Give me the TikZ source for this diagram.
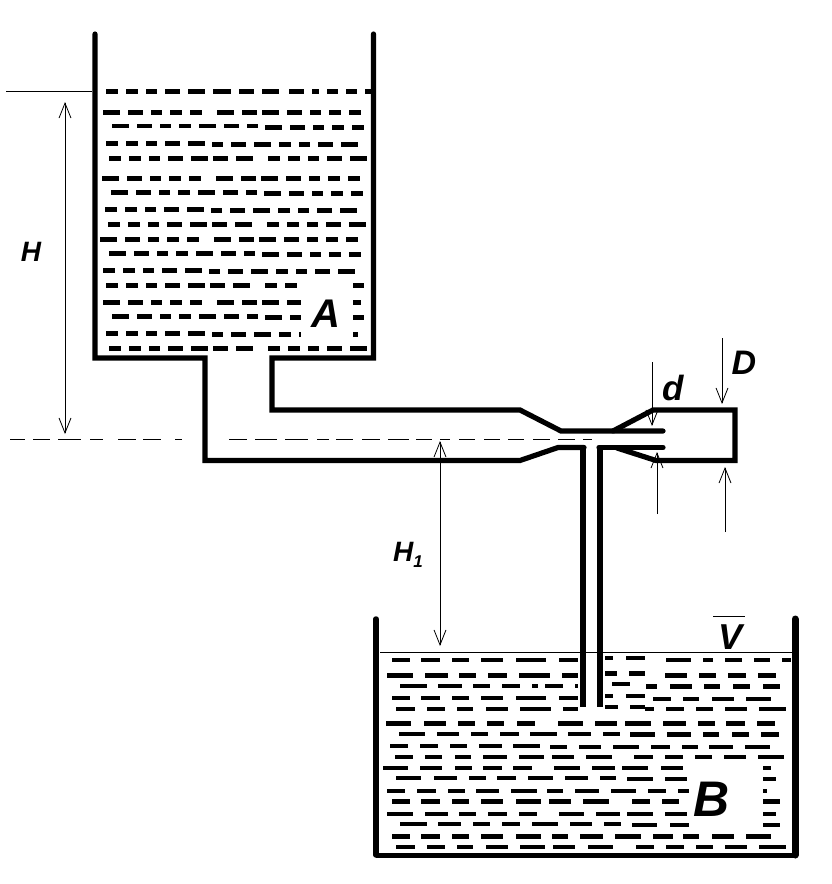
\documentclass[tikz,border=0pt]{standalone}
\usepackage{fontspec}
\setmainfont{Liberation Sans}
\usetikzlibrary{arrows.meta}
\newcommand\dashrow[2]{\foreach \a/\b in {#2}{\draw[liq] ({\a/3+\ox},#1)--({\b/3+\ox},#1);}}
\tikzset{
  liq/.style={line width=4.6pt},
  wall/.style={line width=5.2pt,line join=miter},
  thin line/.style={line width=0.9pt},
  open tip/.tip={Straight Barb[length=15pt,width=12pt,line width=0.8pt]},
  dim/.style={line width=0.8pt,-open tip},
  dimb/.style={line width=0.8pt,open tip-open tip},
  lab/.style={inner sep=0pt,anchor=center}
}
\begin{document}
\begin{tikzpicture}[x=1pt,y=-1pt]
\useasboundingbox (0,0) rectangle (832,884);
\fill[white] (0,0) rectangle (832,884);
% upper liquid
\def\ox{80}
\dashrow{91.3}{78/114,138/174,198/232,255/300,324/376,399/453,477/522,546/598,627/672,696/717,741/774,798/831,855/873}
\dashrow{112.3}{69/120,144/189,213/247,270/307,330/366,411/462,486/531,546/597,621/666,690/723,747/783,807/843}
\dashrow{126}{96/147,171/216,240/273,297/334,357/408,432/477,501/534}
\dashrow{127.3}{555/606,630/675,699/732,756/792,816/852}
\dashrow{143.3}{78/114,138/174,198/232,255/300,324/376}
\dashrow{144.3}{396/429,453/498,522/573,597/633,657/690,714/759,783/834}
\dashrow{158.3}{87/123,147/183,207/240,264/309,333/384,399/444,468/519,564/600,624/660,684/717,741/786,810/861}
\dashrow{178.3}{66/117,141/186,210/243,267/303,327/363,408/459,483/528,543/594,618/663,687/720,744/780,804/840}
\dashrow{192.3}{93/144,168/213,237/270,294/330,354/405,429/474,498/531}
\dashrow{193.3}{552/603,627/672,696/729,753/789,813/849}
\dashrow{209.3}{75/111,135/171,195/228,252/297,321/372}
\dashrow{210.3}{393/426,450/495,519/570,594/630,654/687,711/756,780/831}
\dashrow{224.3}{84/120,144/180,204/237,261/306,330/381,396/441,465/516,561/597,621/657,681/714,738/783,807/858}
\dashrow{239.3}{60/111,135/180,204/237,261/297,321/357,402/453,477/522,537/588,612/657,681/714,738/774,798/834}
\dashrow{253.3}{87/138,162/207,231/264,288/324,348/399,423/468,492/525}
\dashrow{254.3}{546/597,621/666,690/723,747/783,807/843}
\dashrow{270.3}{69/105,129/165,189/222,246/291,315/366}
\dashrow{271.3}{387/420,444/489,513/564,588/624,648/681,705/750,774/825}
\dashrow{285.3}{78/114,138/174,198/231,255/300,324/375,390/435,459/510,555/591,615/651,819/852}
\dashrow{302.3}{69/120,144/189,213/246,270/306,330/366,411/462,486/531,546/597,621/663,819/843}
\dashrow{316.3}{96/147,171/216,240/273,297/333,357/408,432/477,501/534}
\dashrow{317.3}{555/606,630/663,819/852}
\dashrow{333.3}{78/114,138/174,198/231,255/300,324/375}
\dashrow{334.3}{396/429,453/498,522/573,597/633,657/663,819/834}
\dashrow{348.3}{87/123,147/183,207/240,264/309,333/384,399/444,468/519,564/600,624/660,684/717,741/786,810/861}
% lower liquid
\def\ox{370}
\dashrow{660}{66/120,153/210,246/297,333/399,438/528,567/624,888/963,999/1029,1065/1116,1152/1200,1236/1263}
\dashrow{658}{705/729,768/825}
\dashrow{675.3}{51/129,165/234,267/318,354/411,447/540,576/624,885/951,987/1038,1074/1128,1164/1218}
\dashrow{673.3}{705/741,777/825}
\dashrow{686}{90/171,204/276,309/360,396/450,486/504,525/579,615/624}
\dashrow{684}{726/780}
\dashrow{686.3}{828/861,900/966,1002/1050,1089/1140,1179/1230}
\dashrow{698}{66/120,153/210,246/297,333/399,438/528,567/624}
\dashrow{696}{705/729,768/825}
\dashrow{699}{849/903,939/987,1026/1092,1128/1203}
\dashrow{709}{78/135,171/225,261/309,348/414,450/543,579/624,825/852,888/942,978/1029,1065/1131,1167/1248}
\dashrow{707}{705/744,780/825}
\dashrow{723.3}{48/123,162/228,264/315,351/402,441/495,564/639,675/741,765/843,879/948,984/1035,1068/1125,1161/1215}
\dashrow{734}{87/165,201/267,303/354,390/447,480/561,594/663,699/750}
\dashrow{734.5}{780/855,891/963,999/1047,1086/1137,1173/1227}
\dashrow{746}{60/114,150/204,240/291,327/396,429/510}
\dashrow{747}{540/591,627/693,729/807,843/900,936/984,1017/1089,1125/1200}
\dashrow{757}{75/129,165/216,255/303,339/411,447/522,546/612,648/726,792/849,885/939,975/1026,1062/1128,1164/1242}
\dashrow{768}{39/114,150/216,255/306,339/396,429/486,552/630,666/735,756/834,873/939,1179/1203}
\dashrow{778}{78/153,192/261,297/348,381/438,474/549,585/654,690/738}
\dashrow{779}{771/849,885/951,1179/1218}
\dashrow{791}{51/105,141/198,234/285,318/387,423/501,531/579,615/687,723/798,834/888,924/957,1179/1191}
\dashrow{801.3}{66/120,153/210,246/297,333/399,438/513,537/603,639/717,786/840,876/927,1179/1230}
\dashrow{814}{51/129,165/234,267/318,354/411,447/501,567/642,678/750,771/849,885/951,1179/1218}
\dashrow{824}{90/171,204/273,309/360,396/450,486/564,600/666,702/753}
\dashrow{825}{786/861,900/957,1179/1230}
\dashrow{836.7}{66/120,153/210,246/297,333/399,438/513,546/594,630/699,735/813,849/909,939/987,1026/1092,1128/1203}
\dashrow{847}{78/135,171/225,261/309,348/414,450/525,549/615,654/729,798/852,888/942,978/1029,1065/1131,1167/1248}
% upper tank and pipe
\draw[wall,line cap=round] (95,34) -- (95,358) -- (205,358) -- (205,460.5) -- (520,460.5) -- (558,447.5) -- (584,447.5);
\draw[wall,line cap=round] (373.5,34) -- (373.5,358) -- (272,358) -- (272,410) -- (520,410) -- (561,431) -- (663,431);
\draw[wall,line cap=round] (613,431) -- (653,410) -- (735,410) -- (735,460.5) -- (656,460.5) -- (617,448);
\draw[wall,line cap=round] (599,447.5) -- (663,447.5);
\draw[wall] (583,447.5) -- (583,707);
\draw[wall] (600,447.5) -- (600,707);
% lower tank
\draw[line width=5.5pt,line cap=round] (376,619) -- (376,855);
\draw[line width=7pt,line cap=round] (795,619) -- (795,855);
\draw[line width=5pt] (376,855) -- (795,855);
% thin lines
\coordinate (wa) at (380,652.3); \coordinate (wb) at (792,652.3);
\draw[thin line] (wa) -- (wb);
\draw[thin line] (6,91) -- (92,91);
\foreach \a/\b in {10/25,33/50,58/81,90/103,118/136,143/161,175/182,229/247,255/277,285/308,317/329,336/353,362/380,388/409,416/432,440/450,459/475,484/500,508/524,533/550,558/575,583/592}
  \draw[thin line] (\a,439.3) -- (\b,439.3);
\draw[dimb] (65,102) -- (65,434);
\draw[dimb] (440,441) -- (440,646);
\draw[dim] (652,362) -- (652,426);
\draw[dim] (657,514) -- (657,452);
\draw[dim] (722,338) -- (722,404);
\draw[dim] (725,532) -- (725,467);
\draw[thin line] (713,616) -- (745,616);
% labels
\node[lab,font=\bfseries\itshape\fontsize{40}{40}\selectfont] (la) at (326,314) {A};
\node[lab,font=\bfseries\itshape\fontsize{50}{50}\selectfont] (lb) at (712,799) {B};
\node[lab,font=\bfseries\itshape\fontsize{35}{35}\selectfont] (ld) at (673,388) {d};
\node[lab,font=\bfseries\itshape\fontsize{34}{34}\selectfont] (lD) at (744,363) {D};
\node[lab,font=\bfseries\itshape\fontsize{28}{28}\selectfont] (lH) at (31,252) {H};
\node[lab,font=\bfseries\itshape\fontsize{28}{28}\selectfont] (lH1) at (408,555) {H\raisebox{-6pt}{\fontsize{17}{17}\selectfont 1}};
\node[lab,font=\bfseries\itshape\fontsize{36}{36}\selectfont] (lV) at (730,637) {V};
\end{tikzpicture}
\end{document}
